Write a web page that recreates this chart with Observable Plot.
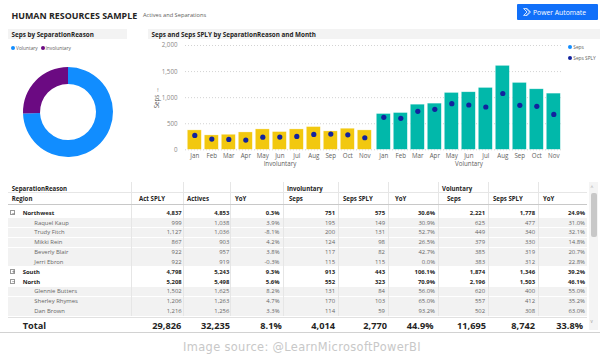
<!DOCTYPE html>
<html>
<head>
<meta charset="utf-8">
<script src="https://cdn.jsdelivr.net/npm/d3@7"></script>
<script src="https://cdn.jsdelivr.net/npm/@observablehq/plot@0.6"></script>
<style>
  html, body { margin: 0; padding: 0; background: #fff; }
  #root { position: relative; width: 600px; height: 361px; overflow: hidden; background: #fff;
          font-family: "Open Sans", "Noto Sans", sans-serif; color: #252423; }
  .abs { position: absolute; white-space: nowrap; }
  .vc { transform: translateY(-50%); }
</style>
</head>
<body>
<div id="root"></div>
<script>
// ---------------- DATA ----------------
const reasons = ["Involuntary", "Voluntary"];
const months = ["Jan","Feb","Mar","Apr","May","Jun","Jul","Aug","Sep","Oct","Nov"];
const invSeps = [372, 276, 288, 333, 391, 340, 391, 436, 353, 404, 372];
const invSply = [276, 205, 199, 186, 242, 244, 256, 295, 301, 288, 231];
const volSeps = [686, 705, 865, 885, 1090, 1103, 1186, 1609, 1282, 1160, 1077];
const volSply = [622, 603, 737, 776, 885, 859, 821, 1080, 853, 833, 679];
const yTicks = [0, 500, 1000, 1500, 2000];

const donutReasons = ["Voluntary", "Involuntary"];
const donutValues = [11695, 4014];

const rowNames = ["Northwest","Raquel Kaup","Trudy Fitch","Mikki Rein","Beverly Blair","Jerri Ebron","South","North","Glennie Butters","Sherley Rhymes","Dan Brown"];
const rowLevel = ["region","person","person","person","person","person","region","region","person","person","person"];
const rowIcon  = ["minus","","","","","","plus","minus","","",""];
const actSply  = ["4,837","999","1,127","867","922","922","4,798","5,208","1,502","1,206","1,216"];
const actives  = ["4,853","1,038","1,036","903","957","919","5,243","5,498","1,625","1,263","1,256"];
const activesYoY = ["0.3%","3.9%","-8.1%","4.2%","3.8%","-0.3%","9.3%","5.6%","8.2%","4.7%","3.3%"];
const invSepsT = ["751","195","200","124","117","115","913","552","131","170","114"];
const invSplyT = ["575","149","131","98","82","115","443","323","84","103","59"];
const invYoY   = ["30.6%","30.9%","52.7%","26.5%","42.7%","0.0%","106.1%","70.9%","56.0%","65.0%","93.2%"];
const volSepsT = ["2,221","625","449","379","385","383","1,874","2,196","620","557","502"];
const volSplyT = ["1,778","477","340","330","319","312","1,346","1,503","400","412","308"];
const volYoY   = ["24.9%","31.0%","32.1%","14.8%","20.7%","22.8%","39.2%","46.1%","55.0%","35.2%","63.0%"];
const totals   = ["29,826","32,235","8.1%","4,014","2,770","44.9%","11,695","8,742","33.8%"];
const headerCols = ["Region","Act SPLY","Actives","YoY","Seps","Seps SPLY","YoY","Seps","Seps SPLY","YoY"];

// ---------------- HELPERS ----------------
const root = document.getElementById("root");
function div(x, y, text, style = {}, cls = "abs vc") {
  const d = document.createElement("div");
  d.className = cls;
  d.style.left = x + "px"; d.style.top = y + "px";
  if (text != null) d.textContent = text;
  Object.assign(d.style, style);
  root.appendChild(d);
  return d;
}
function box(x, y, w, h, bg, extra = {}) {
  return div(x, y, null, Object.assign({width: w + "px", height: h + "px", background: bg}, extra), "abs");
}
function rtext(xRight, y, text, style = {}) {
  return div(0, y, text, Object.assign({width: xRight + "px", textAlign: "right"}, style));
}

// ---------------- TITLE & BUTTON ----------------
div(11.5, 14.5, "HUMAN RESOURCES SAMPLE", {fontFamily: "'Open Sans', sans-serif", fontWeight: 700, fontSize: "8.9px", color: "#252423"});
div(143, 15, "Actives and Separations", {fontSize: "5.7px", color: "#605E5C"});
const btn = box(517, 4, 81, 16, "#1170F9", {borderRadius: "1px"});
btn.innerHTML = '<svg width="9" height="8" viewBox="0 0 9 8" style="position:absolute;left:6px;top:4px"><path d="M0.6 0.6 L4 0.6 L7.6 4 L4 7.4 L0.6 7.4 L4 4 Z M3.2 0.6 L6.6 4 L3.2 7.4" fill="none" stroke="#fff" stroke-width="0.8"/></svg>' +
  '<span style="position:absolute;left:16px;top:50%;transform:translateY(-50%);color:#fff;font-size:6.8px;white-space:nowrap">Power Automate</span>';

// ---------------- PANEL HEADERS ----------------
box(8, 29, 119, 10, "#F3F3F3");
div(11.5, 34.2, "Seps by SeparationReason", {fontWeight: 700, fontSize: "6.3px"});
box(148, 29, 452, 10, "#F3F3F3");
div(151.5, 34.2, "Seps and Seps SPLY by SeparationReason and Month", {fontWeight: 700, fontSize: "6.3px"});

// donut legend
const donutColors = d3.scaleOrdinal(donutReasons, ["#118DFF", "#6B0A82"]);
[[13.3, 0], [42.7, 1]].forEach(([x, i]) => {
  box(x - 2.2, 45.8, 4.4, 4.4, donutColors(donutReasons[i]), {borderRadius: "50%"});
  div(x + 2.8, 48, donutReasons[i], {fontSize: "4.8px", color: "#605E5C"});
});
// chart legend
[["Seps", "#118DFF", 47], ["Seps SPLY", "#12239E", 58]].forEach(([t, c, y]) => {
  box(567.6, y - 2.2, 4.4, 4.4, c, {borderRadius: "50%"});
  div(573.3, y, t, {fontSize: "4.8px", color: "#605E5C"});
});

// ---------------- DONUT ----------------
const sliceData = donutReasons.map((r, i) => ({reason: r, value: donutValues[i]}));
function donutMark(index, scales, values, dimensions) {
  const {width, height} = dimensions;
  const arcs = d3.pie().sort(null).value(d => d.value)(sliceData);
  const arc = d3.arc().innerRadius(28).outerRadius(45);
  const g = d3.create("svg:g").attr("transform", `translate(${width / 2},${height / 2})`);
  g.selectAll("path").data(arcs).join("path")
    .attr("d", arc).attr("fill", d => donutColors(d.data.reason));
  return g.node();
}
const donut = Plot.plot({
  width: 120, height: 104, margin: 0,
  style: {background: "transparent"},
  marks: [donutMark]
});
donut.style.position = "absolute"; donut.style.left = "8px"; donut.style.top = "60px";
root.appendChild(donut);

// ---------------- BAR CHART ----------------
const barData = reasons.flatMap(r => months.map((m, i) => ({
  reason: r, month: m,
  seps: r === "Involuntary" ? invSeps[i] : volSeps[i],
  sply: r === "Involuntary" ? invSply[i] : volSply[i]
})));
const chart = Plot.plot({
  width: 423, height: 131,
  marginLeft: 39.7, marginRight: 5, marginTop: 5, marginBottom: 21.7,
  style: {background: "transparent", fontFamily: "'Open Sans', sans-serif", fontSize: "6.2px", color: "#605E5C", overflow: "visible"},
  fx: {domain: reasons, padding: 0, axis: null},
  x: {domain: months, paddingInner: 0.2, paddingOuter: 0.1, tickSize: 0, tickPadding: 4, label: null},
  y: {domain: [0, 2000], ticks: yTicks, tickFormat: d3.format(","), tickSize: 0, tickPadding: 8,
      label: "Seps", labelAnchor: "center", labelOffset: 31},
  color: {domain: reasons, range: ["#F2C80F", "#01B8AA"]},
  marks: [
    Plot.ruleY(yTicks, {stroke: "#C8C8C8", strokeDasharray: "1,2", strokeWidth: 0.8}),
    Plot.barY(barData, {fx: "reason", x: "month", y: "seps", fill: "reason", stroke: "#fff", strokeOpacity: 0.5, strokeWidth: 0.6}),
    Plot.dot(barData, {fx: "reason", x: "month", y: "sply", r: 2.6, fill: "#12239E"}),
    Plot.text(reasons, {fx: d => d, text: d => d, frameAnchor: "bottom", dy: 16.5, fill: "#605E5C", fontSize: 6.2})
  ]
});
chart.style.position = "absolute"; chart.style.left = "145px"; chart.style.top = "40px";
root.appendChild(chart);
chart.querySelectorAll("g[aria-label='y-axis tick label'] text, g[aria-label='y-axis tick label']").forEach(e => e.setAttribute("fill", "#8A8886"));

// ---------------- TABLE ----------------
const sepX = [131, 183, 230, 283, 338, 388, 438, 488, 538];
const hdrX = [11.7, 139, 187, 235, 289, 343, 395, 447, 493, 543];
const valR = [181.7, 229.3, 279.5, 335, 385, 435, 485, 535, 585];
const rowY0 = 212.7, rowH = 9.83;

rowNames.forEach((n, i) => {
  const yc = rowY0 + i * rowH;
  if (rowLevel[i] === "person") box(8, yc - rowH / 2 + 0.4, 579, rowH - 0.8, "#F2F2F2");
});
sepX.forEach(x => box(x, 182, 0.8, 134, "#E6E6E6"));
box(8, 192, 579, 0.6, "#E6E6E6");
box(8, 204, 579, 0.8, "#C8C8C8");
box(8, 316.8, 579, 0.6, "#E1E1E1");
box(0, 332, 600, 0.8, "#D2D2D2");

div(11.7, 187.5, "SeparationReason", {fontWeight: 700, fontSize: "6.1px"});
div(287, 187.5, "Involuntary", {fontWeight: 700, fontSize: "6.1px"});
div(442, 187.5, "Voluntary", {fontWeight: 700, fontSize: "6.1px"});
headerCols.forEach((h, j) => div(hdrX[j], 198.3, h, {fontWeight: 700, fontSize: "6.1px"}));

const cols = [actSply, actives, activesYoY, invSepsT, invSplyT, invYoY, volSepsT, volSplyT, volYoY];
rowNames.forEach((n, i) => {
  const yc = rowY0 + i * rowH;
  const isRegion = rowLevel[i] === "region";
  const st = isRegion ? {fontWeight: 700, fontSize: "5.9px", color: "#252423"} : {fontSize: "5.9px", color: "#666"};
  div(isRegion ? 22.7 : 34.3, yc, n, st);
  if (rowIcon[i]) {
    const b = box(10.2, yc - 2.6, 5.2, 5.2, "#fff", {border: "0.6px solid #999", boxSizing: "border-box"});
    b.innerHTML = '<svg width="5.2" height="5.2" style="position:absolute;left:-0.6px;top:-0.6px"><path d="M1.2 2.6 H4' + (rowIcon[i] === "plus" ? ' M2.6 1.2 V4' : '') + '" stroke="#777" stroke-width="0.6"/></svg>';
  }
  cols.forEach((c, j) => rtext(valR[j], yc, c[i], st));
});
const totY = 324.8;
div(22.7, totY, "Total", {fontWeight: 700, fontSize: "9.2px"});
const totR = [181.2, 230, 281.7, 335, 387, 433.5, 486, 535, 583];
totals.forEach((t, j) => rtext(totR[j], totY, t, {fontWeight: 700, fontSize: "9.2px"}));

// scrollbar
box(589, 182, 9, 148, "#F4F4F4");
box(590.5, 193, 6, 44, "#C8C8C8", {borderRadius: "2px"});
div(590.5, 187, "^", {fontSize: "5px", color: "#999"});
div(590.5, 321, "v", {fontSize: "4.5px", color: "#999"});

// source caption
div(2, 347, "Image source: @LearnMicrosoftPowerBI", {width: "600px", textAlign: "center", fontFamily: "'DejaVu Sans', sans-serif", fontSize: "11.4px", color: "#C8C8C8", letterSpacing: "0.35px"});
</script>
</body>
</html>
